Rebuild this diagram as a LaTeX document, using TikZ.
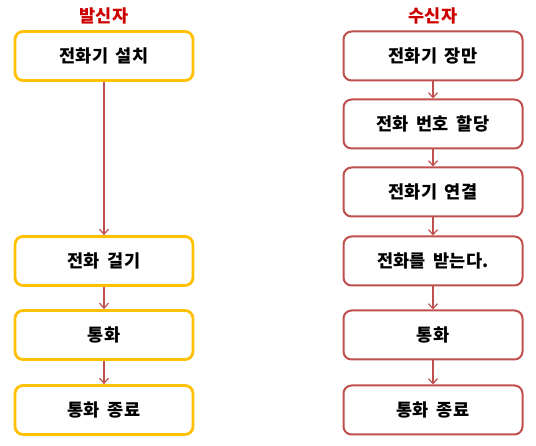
\documentclass[tikz,border=0pt]{standalone}
\usepackage{fontspec}
\newfontfamily\kr{Noto Sans CJK KR}
\usetikzlibrary{arrows.meta}
\definecolor{ybox}{RGB}{255,192,0}
\definecolor{rbox}{RGB}{192,80,77}
\definecolor{hdr}{RGB}{204,0,0}
\newcommand\krtext{\kr\bfseries\fontsize{17.5}{20}\selectfont\spaceskip=0.45em\relax}
\begin{document}
\begin{tikzpicture}[x=1pt,y=-1pt,
  yellowbox/.style={draw=ybox,line width=2.8pt,rounded corners=8pt,fill=white,minimum width=178pt,minimum height=49pt,inner sep=0pt,font=\krtext},
  redbox/.style={draw=rbox,line width=2pt,rounded corners=8pt,fill=white,minimum width=179pt,minimum height=49pt,inner sep=0pt,font=\krtext},
  hd/.style={text=hdr,font=\krtext},
  conn/.style={draw=rbox,line width=1.2pt,-{Straight Barb[length=5pt,width=9pt,line width=1.2pt]}}]
\useasboundingbox (0,0) rectangle (536,446);
\node[hd] (hL) at (104,16) {발신자};
\node[hd] (hR) at (433,16) {수신자};
\node[yellowbox] (L1) at (104,56) {전화기 설치};
\node[yellowbox] (L2) at (104,261) {전화 걸기};
\node[yellowbox] (L3) at (104,335) {통화};
\node[yellowbox] (L4) at (104,410) {통화 종료};
\node[redbox] (R1) at (433,56) {전화기 장만};
\node[redbox] (R2) at (433,124) {전화 번호 할당};
\node[redbox] (R3) at (433,192) {전화기 연결};
\node[redbox] (R4) at (433,261) {전화를 받는다.};
\node[redbox] (R5) at (433,335) {통화};
\node[redbox] (R6) at (433,410) {통화 종료};
\draw[conn] (L1) -- (L2);
\draw[conn] (L2) -- (L3);
\draw[conn] (L3) -- (L4);
\draw[conn] (R1) -- (R2);
\draw[conn] (R2) -- (R3);
\draw[conn] (R3) -- (R4);
\draw[conn] (R4) -- (R5);
\draw[conn] (R5) -- (R6);
\end{tikzpicture}
\end{document}
